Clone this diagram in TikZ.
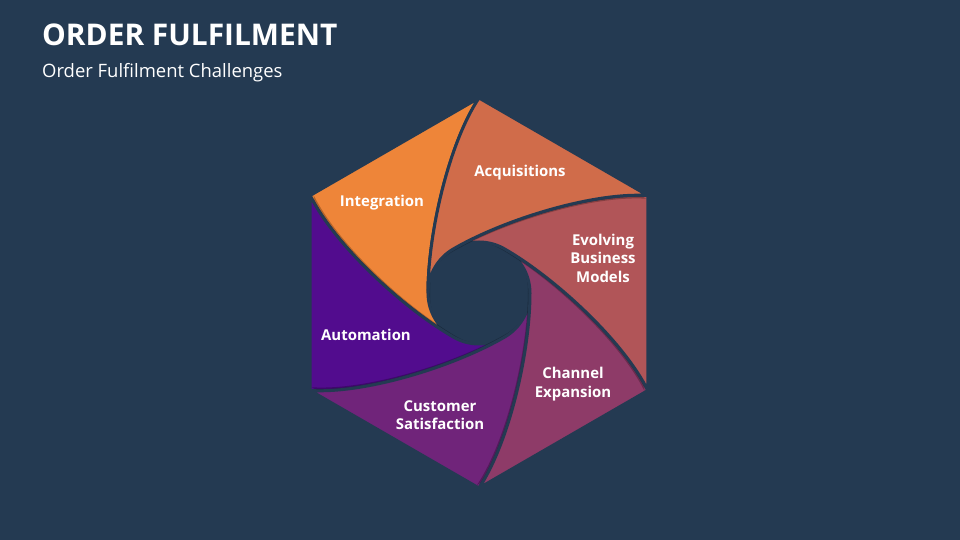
\documentclass[tikz,border=0pt]{standalone}
\usepackage{fontspec}
\setmainfont{Open Sans}
\definecolor{bg}{HTML}{243A52}
\definecolor{cA}{HTML}{EE8539}
\definecolor{cB}{HTML}{520C8E}
\definecolor{cC}{HTML}{70247A}
\definecolor{cD}{HTML}{8E3B68}
\definecolor{cE}{HTML}{B15558}
\definecolor{cF}{HTML}{D06C4A}
\begin{document}
\begin{tikzpicture}[x=0.02cm,y=0.02cm,
  seg/.style={draw=bg,line width=0.06cm,line join=round},
  lbl/.style={text=white,font=\fontsize{8.5}{10.5}\selectfont\bfseries,align=center}]
\fill[bg] (0,0) rectangle (960,-540);
\useasboundingbox (0,0) rectangle (960,-540);
\def\segpath{(0,195) .. controls (-30,150) and (-51,60) .. (-51,0) arc[start angle=180,end angle=240,radius=51] .. controls (-77.5,-14.2) and (-144.9,49) .. (-168.9,97.5) -- cycle}
\begin{scope}[shift={(479,-293)}]
\foreach \k/\c in {0/cA,1/cB,2/cC,3/cD,4/cE,5/cF}{
  \begin{scope}[rotate=60*\k]
  \fill[black,opacity=0.25,shift={(2,-3)}] \segpath;
  \path[seg,fill=\c] \segpath;
  \end{scope}}
\end{scope}
\node[anchor=west,text=white,font=\fontsize{17}{20}\selectfont\bfseries] (title) at (36,-35) {ORDER FULFILMENT};
\node[anchor=west,text=white,font=\fontsize{10.5}{12}\selectfont] (sub) at (36,-73) {Order Fulfilment Challenges};
\node[lbl] (l1) at (382,-203) {Integration};
\node[lbl] (l2) at (520,-173) {Acquisitions};
\node[lbl] (l3) at (603,-258) {Evolving\\Business\\Models};
\node[lbl] (l4) at (573,-384) {Channel\\Expansion};
\node[lbl] (l5) at (440,-415) {Customer\\Satisfaction};
\node[lbl] (l6) at (366,-335) {Automation};
\end{tikzpicture}
\end{document}
